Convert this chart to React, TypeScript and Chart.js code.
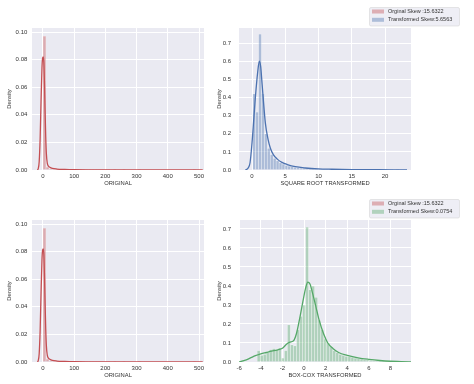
import React, { useEffect, useRef } from "react";
import { Chart, registerables } from "chart.js";

Chart.register(...registerables);

const FONT = "'Liberation Sans', Arial, sans-serif";
const TEXT = "#333333";

// ---------- ORIGINAL ----------
const originalBinStart = 0;
const originalBinWidth = 9.8;
const originalHist = [
  0.097, 0.0021, 0.0006, 0.0003, 0.0002, 0.00015, 0.0001, 0.0001, 0.00008, 0.00006,
  0.00005, 0.00004, 0.00004, 0.00003, 0.00003, 0.00002, 0.00002, 0.00002, 0.00001, 0.00001,
  0.00001, 0.00001, 0, 0.00001, 0, 0, 0.00001, 0, 0, 0,
  0, 0.00001, 0, 0, 0, 0, 0, 0, 0, 0,
  0, 0, 0, 0, 0, 0, 0, 0, 0, 0.00001,
];
const originalKdeX = [-18, -15, -12, -9, -6, -3, -1, 1, 3, 5, 7, 9, 11, 14, 17, 22, 30, 45, 70, 100, 150, 250, 350, 450, 512];
const originalKdeY = [0, 0.001, 0.006, 0.022, 0.05, 0.074, 0.081, 0.082, 0.078, 0.062, 0.042, 0.024, 0.012, 0.005, 0.003, 0.002, 0.0012, 0.0007, 0.0004, 0.0002, 0.0001, 0.00005, 0.00003, 0.00002, 0];
const originalXTicks = [0, 100, 200, 300, 400, 500];
const originalYTicks = [0, 0.02, 0.04, 0.06, 0.08, 0.1];

// ---------- SQUARE ROOT ----------
const sqrtBinStart = 0.1;
const sqrtBinWidth = 0.44;
const sqrtHist = [
  0.42, 0.32, 0.75, 0.42, 0.2, 0.12, 0.085, 0.065, 0.05, 0.04,
  0.032, 0.026, 0.022, 0.018, 0.015, 0.013, 0.011, 0.01, 0.009, 0.008,
  0.007, 0.006, 0.005, 0.005, 0.004, 0.004, 0.003, 0.003, 0.003, 0.002,
  0.002, 0.002, 0.002, 0.001, 0.002, 0.001, 0.001, 0.001, 0.001, 0.001,
  0.001, 0.0005, 0.001, 0.0005, 0.0005, 0.0005, 0, 0.0005, 0, 0.0005,
];
const sqrtKdeX = [-1, -0.6, -0.3, 0, 0.3, 0.5, 0.85, 1.1, 1.3, 1.5, 2.0, 2.4, 2.76, 3.2, 3.8, 4.5, 5.3, 6.5, 8, 10, 12, 15, 18, 21, 23.3];
const sqrtKdeY = [0, 0.01, 0.04, 0.15, 0.3, 0.4, 0.54, 0.6, 0.57, 0.48, 0.26, 0.17, 0.12, 0.085, 0.06, 0.042, 0.03, 0.018, 0.011, 0.006, 0.004, 0.002, 0.0015, 0.001, 0];
const sqrtXTicks = [0, 5, 10, 15, 20];
const sqrtYTicks = [0, 0.1, 0.2, 0.3, 0.4, 0.5, 0.6, 0.7];

// ---------- BOX-COX ----------
const boxcoxBinStart = -4.34;
const boxcoxBinWidth = 0.28;
const boxcoxHist = [
  0.06, 0.035, 0.04, 0.05, 0.065, 0.07, 0.065, 0.075, 0.02, 0.06,
  0.195, 0.09, 0.085, 0.17, 0.24, 0.3, 0.71, 0.38, 0.4, 0.34,
  0.22, 0.17, 0.12, 0.1, 0.08, 0.06, 0.05, 0.04, 0.035, 0.03,
  0.028, 0.025, 0.02, 0.018, 0.015, 0.013, 0.011, 0.009, 0.008, 0.006,
  0.005, 0.004, 0.003, 0.003, 0.002, 0.002, 0.001, 0.001, 0.001, 0.001,
];
const boxcoxKdeX = [-6.1, -5.5, -5, -4.5, -4, -3.5, -3, -2.5, -2, -1.6, -1.3, -1.0, -0.7, -0.4, -0.1, 0.15, 0.35, 0.55, 0.8, 1.1, 1.4, 1.8, 2.2, 2.7, 3.2, 4, 5, 6, 7, 8, 9, 9.9];
const boxcoxKdeY = [0, 0.008, 0.02, 0.033, 0.043, 0.05, 0.057, 0.063, 0.072, 0.095, 0.105, 0.11, 0.15, 0.23, 0.32, 0.39, 0.42, 0.41, 0.36, 0.29, 0.22, 0.15, 0.1, 0.07, 0.05, 0.035, 0.022, 0.014, 0.008, 0.004, 0.002, 0];
const boxcoxXTicks = [-6, -4, -2, 0, 2, 4, 6, 8];
const boxcoxYTicks = [0, 0.1, 0.2, 0.3, 0.4, 0.5, 0.6, 0.7];

// ---------- Legend labels ----------
const originalLegendLabel = "Orginal Skew :15.6322";
const sqrtLegendLabel = "Transformed Skew:5.6563";
const boxcoxLegendLabel = "Transformed Skew:0.0754";

const RED = { bar: "rgba(196,78,82,0.4)", line: "#C44E52" };
const BLUE = { bar: "rgba(76,114,176,0.4)", line: "#4C72B0" };
const GREEN = { bar: "rgba(85,168,104,0.4)", line: "#55A868" };

type Panel = {
  hist: number[];
  binStart: number;
  binWidth: number;
  kdeX: number[];
  kdeY: number[];
  xTicks: number[];
  yTicks: number[];
  yDecimals: number;
  xMin: number;
  xMax: number;
  yMax: number;
  color: { bar: string; line: string };
  xLabel: string;
  yAxisWidth: number;
  yTickPad: number;
  padRight: number;
  legend?: { label: string; color: string }[];
};

const bgPlugin = {
  id: "axesBg",
  beforeDraw(chart: any) {
    const { ctx, chartArea } = chart;
    if (!chartArea) return;
    ctx.save();
    ctx.fillStyle = "#EAEAF2";
    ctx.fillRect(chartArea.left, chartArea.top, chartArea.right - chartArea.left, chartArea.bottom - chartArea.top);
    ctx.restore();
  },
};

function makeLegendPlugin(items: { label: string; color: string }[]) {
  return {
    id: "boxLegend",
    afterDraw(chart: any) {
      const ctx = chart.ctx as CanvasRenderingContext2D;
      const bx = 159.5, by = 7.5, bw = 90, bh = 18.5, r = 1.5;
      ctx.save();
      ctx.beginPath();
      ctx.moveTo(bx + r, by);
      ctx.lineTo(bx + bw - r, by);
      ctx.quadraticCurveTo(bx + bw, by, bx + bw, by + r);
      ctx.lineTo(bx + bw, by + bh - r);
      ctx.quadraticCurveTo(bx + bw, by + bh, bx + bw - r, by + bh);
      ctx.lineTo(bx + r, by + bh);
      ctx.quadraticCurveTo(bx, by + bh, bx, by + bh - r);
      ctx.lineTo(bx, by + r);
      ctx.quadraticCurveTo(bx, by, bx + r, by);
      ctx.closePath();
      ctx.fillStyle = "rgba(234,234,242,0.8)";
      ctx.fill();
      ctx.strokeStyle = "rgba(204,204,204,0.8)";
      ctx.lineWidth = 0.6;
      ctx.stroke();
      ctx.font = `5.5px ${FONT}`;
      ctx.textBaseline = "middle";
      ctx.textAlign = "left";
      items.forEach((it, i) => {
        const cy = by + 4 + i * 8.3;
        ctx.fillStyle = it.color;
        ctx.fillRect(162, cy - 2, 12, 4);
        ctx.fillStyle = TEXT;
        ctx.fillText(it.label, 178, cy);
      });
      ctx.restore();
    },
  };
}

function buildConfig(p: Panel): any {
  const barData = p.hist.map((v, i) => ({ x: p.binStart + p.binWidth * (i + 0.5), y: v }));
  const kdeData = p.kdeX.map((x, i) => ({ x, y: p.kdeY[i] }));
  const tickFont = { family: FONT, size: 6 };
  const titleFont = { family: FONT, size: 5.8 };
  const plugins: any[] = [bgPlugin];
  if (p.legend) plugins.push(makeLegendPlugin(p.legend));
  return {
    type: "bar",
    data: {
      datasets: [
        {
          type: "line",
          data: kdeData,
          borderColor: p.color.line,
          borderWidth: 1.3,
          pointRadius: 0,
          cubicInterpolationMode: "monotone",
          fill: false,
          order: 0,
        },
        {
          type: "bar",
          data: barData,
          backgroundColor: p.color.bar,
          borderColor: "rgba(255,255,255,0.45)",
          borderWidth: 0.5,
          barPercentage: 1,
          categoryPercentage: 1,
          order: 1,
        },
      ],
    },
    options: {
      responsive: false,
      animation: false,
      events: [],
      layout: { padding: { top: 28, right: p.padRight, bottom: 0, left: 0 } },
      plugins: { legend: { display: false }, tooltip: { enabled: false } },
      scales: {
        x: {
          type: "linear",
          min: p.xMin,
          max: p.xMax,
          offset: false,
          afterBuildTicks: (s: any) => {
            s.ticks = p.xTicks.map((v) => ({ value: v }));
          },
          afterFit: (s: any) => {
            s.height = 22;
          },
          grid: { color: "#FFFFFF", lineWidth: 1, drawTicks: false, offset: false },
          border: { display: false },
          ticks: {
            padding: 3,
            color: TEXT,
            font: tickFont,
            autoSkip: false,
            maxRotation: 0,
            callback: (v: number) => String(v),
          },
          title: { display: true, text: p.xLabel, color: TEXT, font: titleFont, padding: { top: 0, bottom: 4.7 } },
        },
        y: {
          type: "linear",
          min: 0,
          max: p.yMax,
          afterBuildTicks: (s: any) => {
            s.ticks = p.yTicks.map((v) => ({ value: v }));
          },
          afterFit: (s: any) => {
            s.width = p.yAxisWidth;
          },
          grid: { color: "#FFFFFF", lineWidth: 1, drawTicks: false },
          border: { display: false },
          ticks: {
            padding: p.yTickPad,
            color: TEXT,
            font: tickFont,
            autoSkip: false,
            callback: (v: number) => Number(v).toFixed(p.yDecimals),
          },
          title: { display: true, text: "Density", color: TEXT, font: titleFont, padding: { top: 6.4, bottom: 0 } },
        },
      },
    },
    plugins,
  };
}

const panels: { key: string; left: number; top: number; width: number; panel: Panel }[] = [
  {
    key: "tl",
    left: 0,
    top: 0,
    width: 210,
    panel: {
      hist: originalHist, binStart: originalBinStart, binWidth: originalBinWidth,
      kdeX: originalKdeX, kdeY: originalKdeY, xTicks: originalXTicks, yTicks: originalYTicks, yDecimals: 2,
      xMin: -35, xMax: 516, yMax: 0.1029, color: RED, xLabel: "ORIGINAL",
      yAxisWidth: 32, yTickPad: 4.7, padRight: 6,
    },
  },
  {
    key: "tr",
    left: 210,
    top: 0,
    width: 264,
    panel: {
      hist: sqrtHist, binStart: sqrtBinStart, binWidth: sqrtBinWidth,
      kdeX: sqrtKdeX, kdeY: sqrtKdeY, xTicks: sqrtXTicks, yTicks: sqrtYTicks, yDecimals: 1,
      xMin: -1.96, xMax: 23.9, yMax: 0.783, color: BLUE, xLabel: "SQUARE ROOT TRANSFORMED",
      yAxisWidth: 29, yTickPad: 8, padRight: 63,
      legend: [
        { label: originalLegendLabel, color: RED.bar },
        { label: sqrtLegendLabel, color: BLUE.bar },
      ],
    },
  },
  {
    key: "bl",
    left: 0,
    top: 192,
    width: 210,
    panel: {
      hist: originalHist, binStart: originalBinStart, binWidth: originalBinWidth,
      kdeX: originalKdeX, kdeY: originalKdeY, xTicks: originalXTicks, yTicks: originalYTicks, yDecimals: 2,
      xMin: -35, xMax: 516, yMax: 0.1029, color: RED, xLabel: "ORIGINAL",
      yAxisWidth: 32, yTickPad: 4.7, padRight: 6,
    },
  },
  {
    key: "br",
    left: 210,
    top: 192,
    width: 264,
    panel: {
      hist: boxcoxHist, binStart: boxcoxBinStart, binWidth: boxcoxBinWidth,
      kdeX: boxcoxKdeX, kdeY: boxcoxKdeY, xTicks: boxcoxXTicks, yTicks: boxcoxYTicks, yDecimals: 1,
      xMin: -6.02, xMax: 9.9, yMax: 0.747, color: GREEN, xLabel: "BOX-COX TRANSFORMED",
      yAxisWidth: 29, yTickPad: 8, padRight: 63,
      legend: [
        { label: originalLegendLabel, color: RED.bar },
        { label: boxcoxLegendLabel, color: GREEN.bar },
      ],
    },
  },
];

function ChartPanel({ left, top, width, panel }: { left: number; top: number; width: number; panel: Panel }) {
  const ref = useRef<HTMLCanvasElement>(null);
  useEffect(() => {
    if (!ref.current) return;
    const chart = new Chart(ref.current, buildConfig(panel));
    return () => chart.destroy();
  }, [panel]);
  return (
    <canvas
      ref={ref}
      width={width}
      height={192}
      style={{ position: "absolute", left, top, width, height: 192 }}
    />
  );
}

export default function App() {
  return (
    <div style={{ position: "absolute", left: 0, top: 0, width: 474, height: 384, background: "#FFFFFF" }}>
      {panels.map((p) => (
        <ChartPanel key={p.key} left={p.left} top={p.top} width={p.width} panel={p.panel} />
      ))}
    </div>
  );
}
